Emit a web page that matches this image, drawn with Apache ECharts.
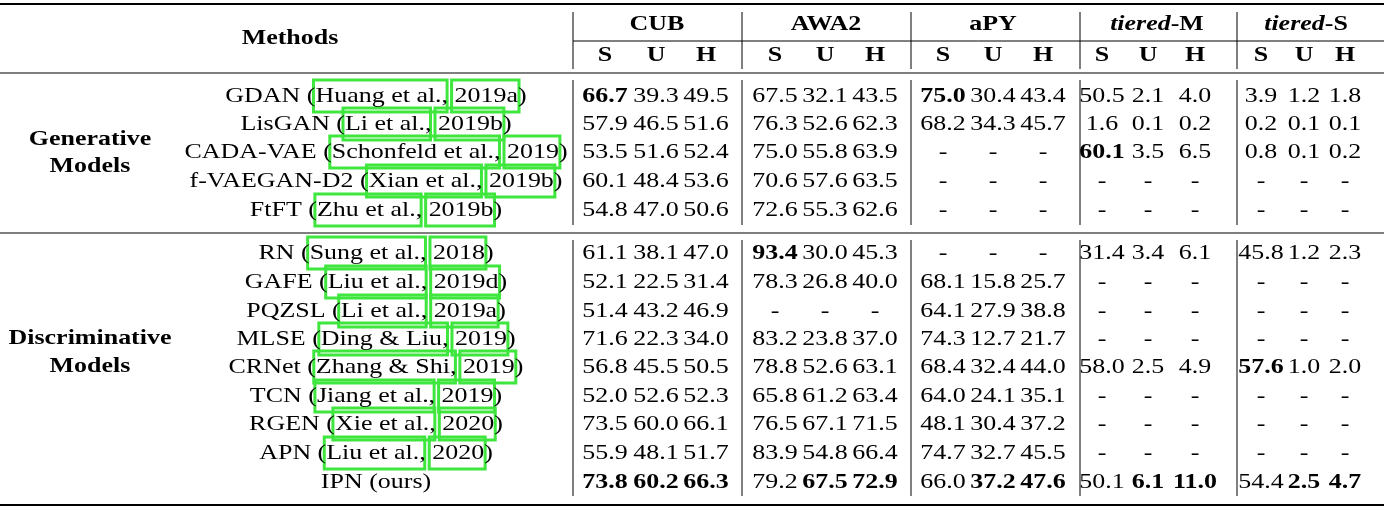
<!DOCTYPE html>
<html>
<head>
<meta charset="utf-8">
<script src="https://cdn.jsdelivr.net/npm/echarts@6/dist/echarts.min.js"></script>
<style>html,body{margin:0;padding:0;background:#fff}#main{width:1384px;height:509px}</style>
</head>
<body>
<div id="main"></div>
<script>
// 表格数据
var datasets = ['CUB', 'AWA2', 'aPY', 'tiered-M', 'tiered-S'];
var metrics = ['S', 'U', 'H'];
// [名称, 作者, 年份]
var methods = [
    ['GDAN', 'Huang et al.,', '2019a'], ['LisGAN', 'Li et al.,', '2019b'], ['CADA-VAE', 'Schonfeld et al.,', '2019'],
    ['f-VAEGAN-D2', 'Xian et al.,', '2019b'], ['FtFT', 'Zhu et al.,', '2019b'],
    ['RN', 'Sung et al.,', '2018'], ['GAFE', 'Liu et al.,', '2019d'], ['PQZSL', 'Li et al.,', '2019a'], ['MLSE', 'Ding & Liu,', '2019'],
    ['CRNet', 'Zhang & Shi,', '2019'], ['TCN', 'Jiang et al.,', '2019'], ['RGEN', 'Xie et al.,', '2020'], ['APN', 'Liu et al.,', '2020'],
    ['IPN (ours)', '', '']
];
var groups = [['Generative', 'Models'], ['Discriminative', 'Models']];
var D = '-';
var values = [
    ['66.7','39.3','49.5','67.5','32.1','43.5','75.0','30.4','43.4','50.5','2.1','4.0','3.9','1.2','1.8'],
    ['57.9','46.5','51.6','76.3','52.6','62.3','68.2','34.3','45.7','1.6','0.1','0.2','0.2','0.1','0.1'],
    ['53.5','51.6','52.4','75.0','55.8','63.9',D,D,D,'60.1','3.5','6.5','0.8','0.1','0.2'],
    ['60.1','48.4','53.6','70.6','57.6','63.5',D,D,D,D,D,D,D,D,D],
    ['54.8','47.0','50.6','72.6','55.3','62.6',D,D,D,D,D,D,D,D,D],
    ['61.1','38.1','47.0','93.4','30.0','45.3',D,D,D,'31.4','3.4','6.1','45.8','1.2','2.3'],
    ['52.1','22.5','31.4','78.3','26.8','40.0','68.1','15.8','25.7',D,D,D,D,D,D],
    ['51.4','43.2','46.9',D,D,D,'64.1','27.9','38.8',D,D,D,D,D,D],
    ['71.6','22.3','34.0','83.2','23.8','37.0','74.3','12.7','21.7',D,D,D,D,D,D],
    ['56.8','45.5','50.5','78.8','52.6','63.1','68.4','32.4','44.0','58.0','2.5','4.9','57.6','1.0','2.0'],
    ['52.0','52.6','52.3','65.8','61.2','63.4','64.0','24.1','35.1',D,D,D,D,D,D],
    ['73.5','60.0','66.1','76.5','67.1','71.5','48.1','30.4','37.2',D,D,D,D,D,D],
    ['55.9','48.1','51.7','83.9','54.8','66.4','74.7','32.7','45.5',D,D,D,D,D,D],
    ['73.8','60.2','66.3','79.2','67.5','72.9','66.0','37.2','47.6','50.1','6.1','11.0','54.4','2.5','4.7']
];
// 加粗单元格 [行, 列]
var boldCells = [[0,0],[0,6],[2,9],[5,3],[9,12],[13,0],[13,1],[13,2],[13,4],[13,5],[13,7],[13,8],[13,10],[13,11],[13,13],[13,14]];

// 版式
var colX = [605,656,706, 775,825,875, 943,993,1043, 1102,1148,1195, 1261,1304,1345];
var rowY = [96,124,152,181,210, 253,282,311,339,367,396,424,453,482];
var vLines = [573, 742, 911, 1080, 1237];
var FONT = '"Liberation Serif", "DejaVu Serif", serif';
var FS = 22, SX = 1.18;
var GREEN = '#3ee63e';

function fontOf(bold) { return (bold ? 'bold ' : '') + FS + 'px ' + FONT; }
var ctx = document.createElement('canvas').getContext('2d');
function measure(s, bold) { ctx.font = fontOf(bold); return ctx.measureText(s).width * SX; }

var cells = [];
values.forEach(function (row, r) {
    row.forEach(function (v, c) {
        var b = boldCells.some(function (p) { return p[0] === r && p[1] === c; });
        cells.push([colX[c], rowY[r], v, b ? 1 : 0]);
    });
});

var chart = echarts.init(document.getElementById('main'));
var graphics = [];
function line(x1, y1, x2, y2, w) {
    graphics.push({type: 'line', shape: {x1: x1, y1: y1, x2: x2, y2: y2}, style: {stroke: '#000', lineWidth: w}});
}
function text(x, y, s, bold, rich) {
    graphics.push({type: 'text', x: x, y: y, scaleX: SX, z: 10,
        style: {text: s, font: fontOf(bold), fill: '#000', align: 'center', verticalAlign: 'middle', rich: rich}});
}
function box(x, y, w) {
    graphics.push({type: 'rect', z: 5, shape: {x: x, y: y - 16, width: w, height: 32},
        style: {fill: 'none', stroke: GREEN, lineWidth: 3}});
}
line(0, 4, 1384, 4, 2);
line(0, 73, 1384, 73, 1.2);
line(0, 233, 1384, 233, 1.2);
line(0, 505, 1384, 505, 2);
vLines.forEach(function (x) { line(x, 12, x, 69, 1); line(x, 80, x, 225, 1); line(x, 240, x, 496, 1); });
line(573, 41, 1384, 41, 1);

text(290, 38, 'Methods', true);
var groupX = [657, 826, 993, 1157, 1306];
var rich = {i: {font: 'italic bold ' + FS + 'px ' + FONT}};
datasets.forEach(function (d, i) {
    var s = d.indexOf('tiered') === 0 ? '{i|tiered}' + d.slice(6) : d;
    text(groupX[i], 24, s, true, rich);
});
colX.forEach(function (x, c) { text(x, 55, metrics[c % 3], true); });
text(90, 139, groups[0][0], true); text(90, 166, groups[0][1], true);
text(90, 338, groups[1][0], true); text(90, 366, groups[1][1], true);

// 方法名称与引用框
methods.forEach(function (m, r) {
    var y = rowY[r];
    var full = m[1] ? m[0] + ' (' + m[1] + ' ' + m[2] + ')' : m[0];
    text(376, y, full, false);
    if (!m[1]) return;
    var left = 376 - measure(full) / 2;
    var a = left + measure(m[0] + ' (');
    var wa = measure(m[1]);
    var b = a + wa + measure(' ');
    var wb = measure(m[2]);
    box(a - 2, y, wa + 1);
    box(b - 3, y, wb + 4);
});

var option = {
    animation: false,
    grid: {left: 0, right: 0, top: 0, bottom: 0},
    xAxis: {type: 'value', min: 0, max: 1384, show: false},
    yAxis: {type: 'value', min: 0, max: 509, inverse: true, show: false},
    graphic: graphics,
    series: [{
        type: 'custom',
        data: cells,
        renderItem: function (params, api) {
            var p = api.coord([api.value(0), api.value(1)]);
            return {
                type: 'text', x: p[0], y: p[1], scaleX: SX,
                style: {text: cells[params.dataIndex][2], font: fontOf(api.value(3)),
                    fill: '#000', align: 'center', verticalAlign: 'middle'}
            };
        }
    }]
};
chart.setOption(option);
</script>
</body>
</html>
